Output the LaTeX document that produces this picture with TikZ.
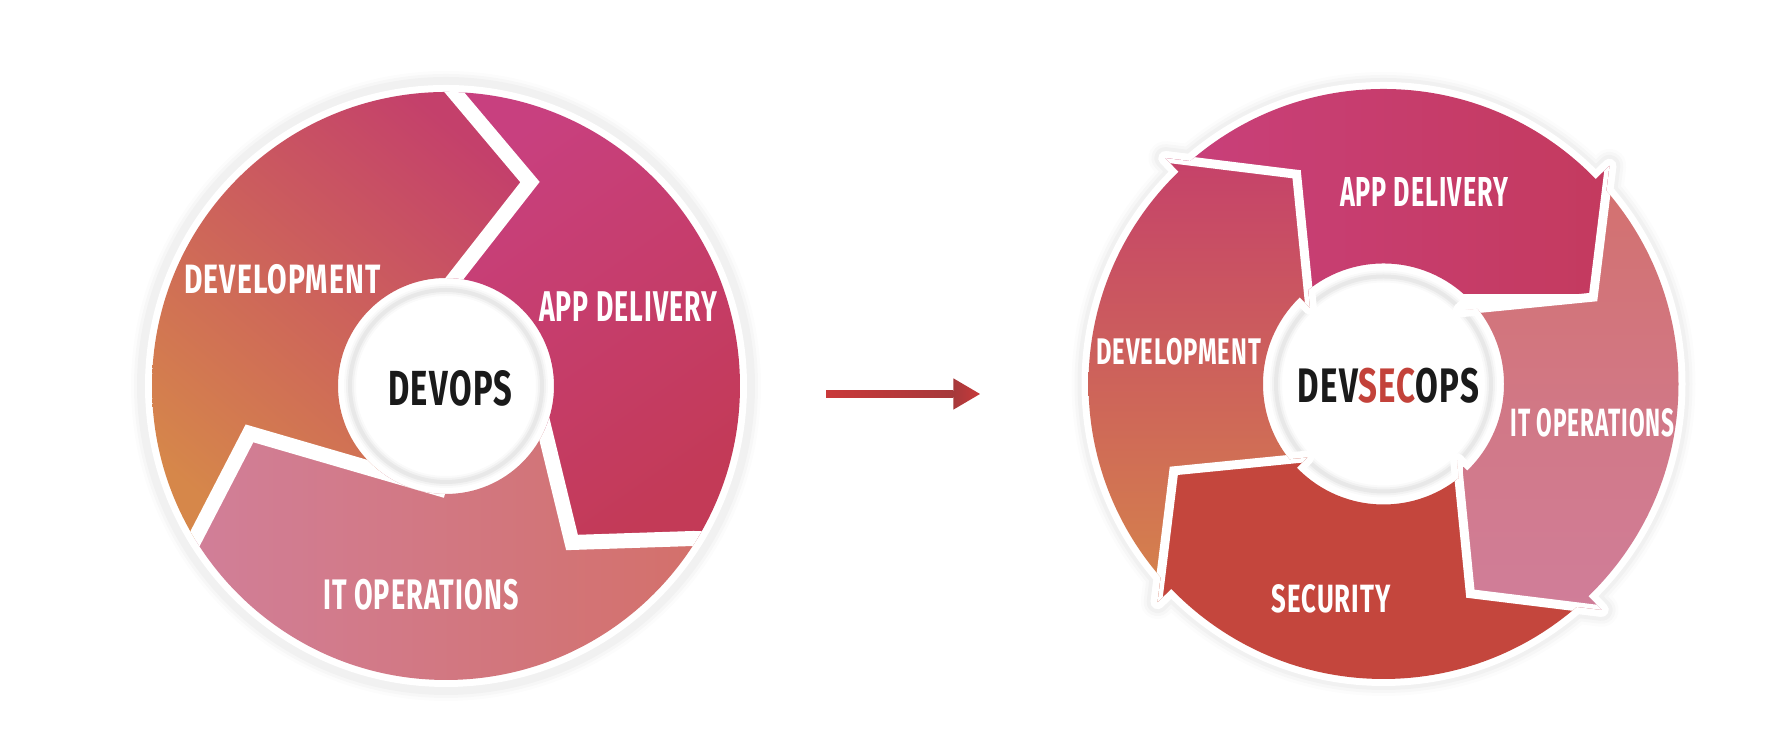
\documentclass[tikz,border=0pt]{standalone}
\usepackage{fontspec}
\setmainfont{Fira Sans}
\usepackage{graphicx}
\definecolor{ldevT}{HTML}{C4406B}
\definecolor{ldevB}{HTML}{D6874A}
\definecolor{lappT}{HTML}{C8407F}
\definecolor{lappB}{HTML}{C33A57}
\definecolor{litL}{HTML}{D17F99}
\definecolor{litR}{HTML}{D3706A}
\definecolor{rappL}{HTML}{C9407C}
\definecolor{rappR}{HTML}{C43A5E}
\definecolor{rdevT}{HTML}{C5416A}
\definecolor{rdevB}{HTML}{D6864A}
\definecolor{ritT}{HTML}{D3706C}
\definecolor{ritB}{HTML}{D07E9A}
\definecolor{rsec}{HTML}{C4463D}
\definecolor{secred}{HTML}{C3423A}
\definecolor{inkblack}{HTML}{1A1A1A}
\definecolor{arrA}{HTML}{C9393A}
\definecolor{arrB}{HTML}{A6393B}
\newcommand{\fitlbl}[3]{\resizebox{#1mm}{#2mm}{\bfseries\addfontfeatures{LetterSpace=4}#3}}
\begin{document}
\begin{tikzpicture}[x=0.1mm,y=0.1mm,
  lbl/.style={text=white, inner sep=0pt},
  ctr/.style={text=inkblack, inner sep=0pt},
  gapL/.style={white, line width=1.5mm, line join=miter},
  gapR/.style={white, line width=0.9mm, line join=miter},
  halo/.style={black, line join=round}]
\useasboundingbox (0,0) rectangle (1790,754);
\fill[white] (0,0) rectangle (1790,754);

% ---------------- LEFT : DEVOPS ----------------
\begin{scope}[shift={(446,368)}]
  \coordinate (lc) at (0,0);
  \coordinate (Tx) at (-10.3,83.5);
  \coordinate (Ti) at (8.6,107.6);
  \coordinate (Tt) at (84,203.9);
  \coordinate (To) at (9.5,292.3);
  \coordinate (Tf) at (-35.2,345.3);
  \coordinate (Ri) at (84,16);
  \coordinate (Rt) at (126,-156.5);
  \coordinate (Ro) at (247.5,-152.5);
  \coordinate (Rf) at (320.4,-154.9);
  \coordinate (Li) at (0,-104.6);
  \coordinate (Lt) at (-196.5,-47.4);
  \coordinate (Lo) at (-253.1,-156.8);
  \coordinate (Lf) at (-281.4,-211.5);
  \foreach \w/\o in {2.8/0.012,2.2/0.018,1.6/0.025}
    {\draw[halo,opacity=\o,line width=\w mm] (lc) circle (30.1mm);}
  \fill[white] (lc) circle (30.1mm);
  \foreach \w/\o in {1.2/0.02,0.8/0.03,0.4/0.04}
    {\draw[halo,opacity=\o,line width=\w mm] (lc) circle (9.6mm);}
  \begin{scope}
    \clip (lc) circle (29.4mm) (10.8mm,0) arc[start angle=0,end angle=-360,radius=10.8mm];
    \begin{scope}
      \clip (lc) -- (Li) -- (Lt) -- (Lo) -- (Lf) -- (-450,-250) -- (-450,450) -- (-35.2,450) -- (Tf) -- (To) -- (Tt) -- (Ti) -- (Tx) -- cycle;
      \shade[top color=ldevT, bottom color=ldevB, shading angle=-40] (-294,-190) rectangle (110,294);
    \end{scope}
    \begin{scope}
      \clip (lc) -- (Tx) -- (Ti) -- (Tt) -- (To) -- (Tf) -- (-35.2,450) -- (450,450) -- (450,-154.9) -- (Rf) -- (Ro) -- (Rt) -- (Ri) -- cycle;
      \shade[top color=lappT, bottom color=lappB, shading angle=35] (0,-160) rectangle (294,294);
    \end{scope}
    \begin{scope}
      \clip (lc) -- (Ri) -- (Rt) -- (Ro) -- (Rf) -- (450,-154.9) -- (450,-450) -- (-450,-450) -- (-450,-250) -- (Lf) -- (Lo) -- (Lt) -- (Li) -- cycle;
      \shade[left color=litL, right color=litR] (-260,-294) rectangle (260,-40);
    \end{scope}
    \draw[gapL] (Tf) -- (To) -- (Tt) -- (Ti) -- (Tx);
    \draw[gapL] (Rf) -- (Ro) -- (Rt) -- (Ri);
    \draw[gapL] (Lf) -- (Lo) -- (Lt) -- (Li);
  \end{scope}
\end{scope}

% ---------------- RIGHT : DEVSECOPS ----------------
\begin{scope}[shift={(1383.5,370)}]
  \coordinate (rc) at (0,0);
  \coordinate (TLo) at (134:31.4mm);
  \coordinate (TLt) at (112.5:22.7mm);
  \coordinate (TLi) at (134:10.6mm);
  \coordinate (TRo) at (44:31.4mm);
  \coordinate (TRt) at (22.5:22.7mm);
  \coordinate (TRi) at (44:10.6mm);
  \coordinate (BRo) at (-46:31.4mm);
  \coordinate (BRt) at (-67.5:22.7mm);
  \coordinate (BRi) at (-46:10.6mm);
  \coordinate (BLo) at (224:31.4mm);
  \coordinate (BLt) at (202.5:22.7mm);
  \coordinate (BLi) at (224:10.6mm);
  \tikzset{runion/.style={insert path={(rc) circle (29.5mm)
      (TLi) -- (TLt) -- (TLo) -- cycle (TRi) -- (TRt) -- (TRo) -- cycle
      (BRi) -- (BRt) -- (BRo) -- cycle (BLi) -- (BLt) -- (BLo) -- cycle}},
    heads/.style={insert path={(TLi) -- (TLt) -- (TLo) -- cycle (TRi) -- (TRt) -- (TRo) -- cycle
      (BRi) -- (BRt) -- (BRo) -- cycle (BLi) -- (BLt) -- (BLo) -- cycle}}}
  \foreach \w/\o in {3.4/0.012,2.8/0.018,2.2/0.025}
    {\draw[halo,opacity=\o,line width=\w mm,runion];}
  \fill[white,runion];
  \draw[white,line width=1.4mm,line join=round,runion];
  \foreach \w/\o in {1.2/0.02,0.8/0.03,0.4/0.04}
    {\draw[halo,opacity=\o,line width=\w mm] (rc) circle (10.75mm);}
  \draw[white,line width=1.4mm,line join=round,heads];
  \begin{scope}
    \clip (rc) circle (29.5mm) (12.05mm,0) arc[start angle=0,end angle=-360,radius=12.05mm]
      (TLi) -- (TLt) -- (TLo) -- cycle (TRi) -- (TRt) -- (TRo) -- cycle
      (BRi) -- (BRt) -- (BRo) -- cycle (BLi) -- (BLt) -- (BLo) -- cycle;
    \begin{scope}
      \clip (rc) -- (TLi) -- (TLt) -- (TLo) -- (134:45mm) arc[start angle=134,end angle=44,radius=45mm] -- (TRo) -- (TRt) -- (TRi) -- cycle;
      \shade[left color=rappL, right color=rappR] (-230,90) rectangle (230,320);
    \end{scope}
    \begin{scope}
      \clip (rc) -- (TRi) -- (TRt) -- (TRo) -- (44:45mm) arc[start angle=44,end angle=-46,radius=45mm] -- (BRo) -- (BRt) -- (BRi) -- cycle;
      \shade[top color=ritT, bottom color=ritB] (80,-230) rectangle (320,230);
    \end{scope}
    \begin{scope}
      \clip (rc) -- (BRi) -- (BRt) -- (BRo) -- (-46:45mm) arc[start angle=-46,end angle=-136,radius=45mm] -- (BLo) -- (BLt) -- (BLi) -- cycle;
      \fill[rsec] (-330,-330) rectangle (330,0);
    \end{scope}
    \begin{scope}
      \clip (rc) -- (BLi) -- (BLt) -- (BLo) -- (224:45mm) arc[start angle=224,end angle=134,radius=45mm] -- (TLo) -- (TLt) -- (TLi) -- cycle;
      \shade[top color=rdevT, bottom color=rdevB] (-320,-230) rectangle (-70,230);
    \end{scope}
    \draw[gapR] (TLo) -- (TLt) -- (TLi);
    \draw[gapR] (TRo) -- (TRt) -- (TRi);
    \draw[gapR] (BRo) -- (BRt) -- (BRi);
    \draw[gapR] (BLo) -- (BLt) -- (BLi);
  \end{scope}
\end{scope}

% ---------------- ARROW ----------------
\coordinate (arrS) at (826,360);
\coordinate (arrJ) at (953.3,360);
\coordinate (arrE) at (980,360);
\shade[left color=arrA, right color=arrB] ([yshift=-0.34mm]arrS) rectangle ([yshift=0.34mm]arrJ);
\shade[left color=arrB, right color=arrA] ([yshift=-1.57mm]arrJ) -- (arrE) -- ([yshift=1.57mm]arrJ) -- cycle;

% ---------------- LABELS ----------------
\node[lbl] (ldev) at (282.3,474.2) {\fitlbl{19.6}{2.91}{DEVELOPMENT}};
\node[lbl] (lapp) at (628,447.6) {\fitlbl{17.8}{2.98}{APP DELIVERY}};
\node[lbl] (lit) at (420.9,159.1) {\fitlbl{19.53}{3.03}{IT OPERATIONS}};
\node[ctr] (ldevops) at (450.2,366) {\fitlbl{12.38}{3.5}{DEVOPS}};
\node[lbl] (rapp) at (1424,561.5) {\fitlbl{16.8}{2.9}{APP DELIVERY}};
\node[lbl] (rdev) at (1178.5,402) {\fitlbl{16.48}{2.63}{DEVELOPMENT}};
\node[ctr] (rdso) at (1388.5,368.1) {\fitlbl{18.13}{3.44}{DEV\textcolor{secred}{SEC}OPS}};
\node[lbl] (rit) at (1592.5,331.6) {\fitlbl{16.4}{2.8}{IT OPERATIONS}};
\node[lbl] (rsecl) at (1331,155.6) {\fitlbl{11.92}{2.8}{SECURITY}};
\end{tikzpicture}
\end{document}
